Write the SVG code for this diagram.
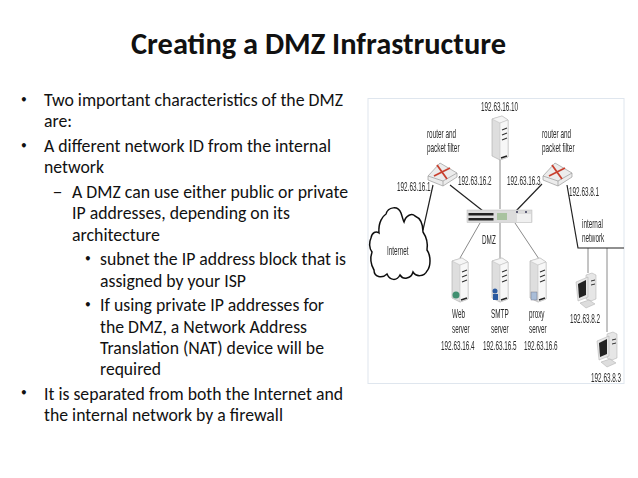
<svg xmlns="http://www.w3.org/2000/svg" width="638" height="478" viewBox="0 0 638 478">
<style>
.t{font-family:Carlito,Lato,"Noto Sans",sans-serif;fill:#111}
.b{font-size:18.3px}
.d{font-size:11.5px}
.l{font-family:"Liberation Sans",Arial,sans-serif;font-size:13px;fill:#2a2a2a}
.g{stroke:#8a8a8a;stroke-width:1;fill:none}
.k{stroke:#222;stroke-width:1.2;fill:none}
.sv{fill:#dedede;stroke:#aaa;stroke-width:.6}
.sd{fill:#f5f5f5;stroke:#bbb;stroke-width:.5}
.sl{stroke:#333;stroke-width:1.2}
</style>
<defs>
<filter id="soft" x="-5%" y="-5%" width="110%" height="110%"><feGaussianBlur stdDeviation="0.35"/></filter>
<g id="srv">
<path class="sv" d="M0 3 L10 0 L16 4 V41 L8 44 L0 40Z"/>
<path class="sd" d="M0 3 L10 0 L16 4 L8 7Z"/>
<path d="M8 7 V44 L16 41 V4Z" fill="#f7f7f7" stroke="#bbb" stroke-width=".5"/>
<path class="sl" d="M10 14 L15 12 M10 19 L15 17 M10 24 L15 22"/>
<path d="M9 42 L15 40" stroke="#222" stroke-width="1.5"/>
</g>
<g id="router">
<path d="M-13 3 L-1 -10 L16 0 L16 4 L2 13 L-13 7Z" fill="#ececec" stroke="#999" stroke-width=".7"/>
<path d="M-13 3 L2 8 L16 0 M2 8 V13" fill="none" stroke="#999" stroke-width=".7"/>
<path d="M-4 -8 L6 6 M-7 3 L9 -5" stroke="#c8402f" stroke-width="1.8"/>
</g>
<g id="pc">
<path d="M10 2 L16 0 L20 2 V26 L15 28 L10 26Z" fill="#e6e6e6" stroke="#aaa" stroke-width=".5"/>
<path d="M15 8 L19 7 M15 12 L19 11" stroke="#333" stroke-width="1"/>
<path d="M0 9 L12 4 V24 L2 28Z" fill="#e6e6e6" stroke="#aaa" stroke-width=".5"/>
<path d="M2 11 L10 7 V22 L3 25Z" fill="#222"/>
<path d="M4 30 L13 27 L19 31 L10 35Z" fill="#ddd" stroke="#aaa" stroke-width=".5"/>
</g>
</defs>
<rect width="638" height="478" fill="#fff"/>
<text id="title" class="t" x="318.500" y="54" text-anchor="middle" font-size="29.500" font-weight="700" textLength="375" lengthAdjust="spacingAndGlyphs">Creating a DMZ Infrastructure</text>
<g id="body" class="t b">
<text class="d" x="21" y="102.500">•</text>
<text x="44" y="105.500" textLength="299" lengthAdjust="spacingAndGlyphs">Two important characteristics of the DMZ</text>
<text x="44" y="127" textLength="28" lengthAdjust="spacingAndGlyphs">are:</text>
<text class="d" x="21" y="149">•</text>
<text x="44" y="152" textLength="287" lengthAdjust="spacingAndGlyphs">A different network ID from the internal</text>
<text x="44" y="173" textLength="60" lengthAdjust="spacingAndGlyphs">network</text>
<text x="52.500" y="198" textLength="10" lengthAdjust="spacingAndGlyphs">–</text>
<text x="72" y="198" textLength="276" lengthAdjust="spacingAndGlyphs">A DMZ can use either public or private</text>
<text x="72" y="219" textLength="218" lengthAdjust="spacingAndGlyphs">IP addresses, depending on its</text>
<text x="72" y="240.500" textLength="88" lengthAdjust="spacingAndGlyphs">architecture</text>
<text class="d" x="85" y="261.500">•</text>
<text x="100" y="265" textLength="246" lengthAdjust="spacingAndGlyphs">subnet the IP address block that is</text>
<text x="100" y="287" textLength="146" lengthAdjust="spacingAndGlyphs">assigned by your ISP</text>
<text class="d" x="85" y="307.500">•</text>
<text x="100" y="311" textLength="224" lengthAdjust="spacingAndGlyphs">If using private IP addresses for</text>
<text x="100" y="332.500" textLength="207" lengthAdjust="spacingAndGlyphs">the DMZ, a Network Address</text>
<text x="100" y="354" textLength="224" lengthAdjust="spacingAndGlyphs">Translation (NAT) device will be</text>
<text x="100" y="375" textLength="61" lengthAdjust="spacingAndGlyphs">required</text>
<text class="d" x="21" y="396">•</text>
<text x="44" y="399.500" textLength="299" lengthAdjust="spacingAndGlyphs">It is separated from both the Internet and</text>
<text x="44" y="421" textLength="239" lengthAdjust="spacingAndGlyphs">the internal network by a firewall</text>
</g>
<rect x="368" y="98.500" width="256" height="285" fill="#fff" stroke="#dfe6ee" stroke-width="1"/>
<g filter="url(#soft)">
<g id="connectors">
<path class="g" d="M500 158 V209 M500 223 V258 M480 223 L460 258 M515 223 L539 259 M588 248 V273 M607 248 V332"/>
<path class="k" d="M433 185 L423 230 M450 185 L483 211 M542 184 L516 211 M567 185 L578 248 H624"/>
</g>
<g id="cloud"><path d="M371 238 C372 232 376 231 379 233 C378 222 383 216 386 214 C388 207 398 205 401 213 C403 219 403 220 404 222 C406 215 412 213 415 216 C420 218 423 224 423 232 C427 238 428 244 427 250 C431 256 431 266 427 271 C424 277 416 277 413 272 C411 279 403 280 400 275 C397 281 390 281 387 274 C382 279 374 277 374 270 C371 265 370 258 372 252 C369 248 369 242 371 238Z" fill="#fff" stroke="#111" stroke-width="1.5"/></g>
<g id="switch">
<rect x="467" y="210" width="65" height="12.500" fill="#dcdcdc" stroke="#bbb" stroke-width=".5"/>
<rect x="468.500" y="213" width="25" height="2.500" fill="#222"/>
<rect x="468.500" y="218" width="25" height="2.500" fill="#222"/>
<rect x="497" y="213" width="10" height="7" fill="#a9c3a0"/>
<rect x="517" y="214" width="14" height="8" fill="#f0f0f0"/>
<circle cx="517" cy="212" r="1" fill="#335"/>
<circle cx="526" cy="212" r="1" fill="#335"/>
</g>
<g id="server-top"><use href="#srv" x="492" y="116"/></g>
<g id="router-left"><use href="#router" x="441" y="173"/></g>
<g id="router-right"><use href="#router" x="556" y="173"/></g>
<g id="server-web"><use href="#srv" x="452" y="258"/><circle cx="456" cy="295" r="3.500" fill="#3f8f6f"/></g>
<g id="server-smtp"><use href="#srv" x="492" y="258"/><circle cx="495" cy="291" r="2.500" fill="#2c5aa0"/><rect x="493" y="294" width="5" height="6" fill="#2c5aa0"/></g>
<g id="server-proxy"><use href="#srv" x="530" y="258"/><rect x="531" y="292" width="6" height="8" fill="#a9bdd8" stroke="#667" stroke-width=".4"/></g>
<g id="pc-1"><use href="#pc" x="576" y="273"/></g>
<g id="pc-2"><use href="#pc" x="597" y="332"/></g>
<g id="labels" class="l">
<text transform="translate(481 110.500) scale(.49 1)">192.63.16.10</text>
<text transform="translate(427 137.500) scale(.49 1)">router and</text>
<text transform="translate(427 151.500) scale(.49 1)">packet filter</text>
<text transform="translate(542 137.500) scale(.49 1)">router and</text>
<text transform="translate(542 151.500) scale(.49 1)">packet filter</text>
<text transform="translate(397 190.500) scale(.49 1)">192.63.16.1</text>
<text transform="translate(458 184.500) scale(.49 1)">192.63.16.2</text>
<text transform="translate(507 184.500) scale(.49 1)">192.63.16.3</text>
<text transform="translate(569 195.500) scale(.49 1)">192.63.8.1</text>
<text transform="translate(482 243.500) scale(.49 1)">DMZ</text>
<text transform="translate(582 227.500) scale(.49 1)">internal</text>
<text transform="translate(582 241.500) scale(.49 1)">network</text>
<text transform="translate(387 254.500) scale(.49 1)">Internet</text>
<text transform="translate(452 317.500) scale(.49 1)">Web</text>
<text transform="translate(452 332.500) scale(.49 1)">server</text>
<text transform="translate(491 317.500) scale(.49 1)">SMTP</text>
<text transform="translate(491 332.500) scale(.49 1)">server</text>
<text transform="translate(529 317.500) scale(.49 1)">proxy</text>
<text transform="translate(529 332.500) scale(.49 1)">server</text>
<text transform="translate(441 349.500) scale(.49 1)">192.63.16.4</text>
<text transform="translate(483 349.500) scale(.49 1)">192.63.16.5</text>
<text transform="translate(524 349.500) scale(.49 1)">192.63.16.6</text>
<text transform="translate(570 322.500) scale(.49 1)">192.63.8.2</text>
<text transform="translate(591 381.500) scale(.49 1)">192.63.8.3</text>
</g>
</g>
</svg>
